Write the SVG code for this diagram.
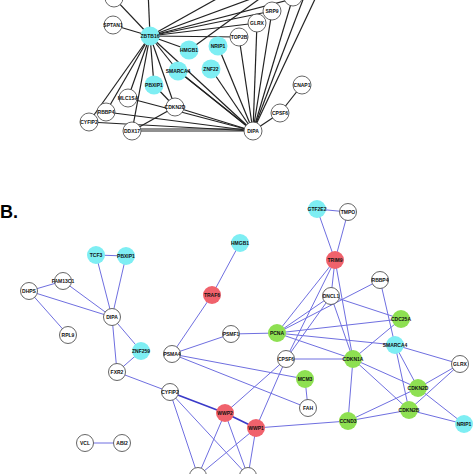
<svg xmlns="http://www.w3.org/2000/svg" width="474" height="474" viewBox="0 0 474 474">
<style>
.ea line{stroke:#222;stroke-width:1.2}
.eb line{stroke:#6f6fe0;stroke-width:1}
.w circle{fill:#fff;stroke:#555;stroke-width:0.9}
.c circle{fill:#7eeef3}
.r circle{fill:#f0626c}
.g circle{fill:#8ee052}
text{font-family:"Liberation Sans",Arial,sans-serif;font-size:5px;font-weight:bold;fill:#111;text-anchor:middle;dominant-baseline:central}
</style>
<rect width="474" height="474" fill="#fff"/>
<g id="connectors-a" class="ea">
<line x1="150" y1="36" x2="114" y2="-2"/>
<line x1="150" y1="36" x2="148" y2="-10"/>
<line x1="150" y1="36" x2="113" y2="25"/>
<line x1="150" y1="36" x2="220" y2="-3"/>
<line x1="150" y1="36" x2="256" y2="-3"/>
<line x1="150" y1="36" x2="300" y2="-3"/>
<line x1="150" y1="36" x2="272" y2="11"/>
<line x1="150" y1="36" x2="257" y2="23"/>
<line x1="150" y1="36" x2="239" y2="37"/>
<line x1="150" y1="36" x2="189" y2="50"/>
<line x1="150" y1="36" x2="154" y2="85"/>
<line x1="150" y1="36" x2="178" y2="71"/>
<line x1="150" y1="36" x2="128" y2="98"/>
<line x1="150" y1="36" x2="106" y2="112"/>
<line x1="150" y1="36" x2="89" y2="122"/>
<line x1="150" y1="36" x2="132" y2="131"/>
<line x1="150" y1="36" x2="175" y2="107"/>
<line x1="150" y1="36" x2="253" y2="131"/>
<line x1="189" y1="50" x2="262" y2="-3"/>
<line x1="218" y1="46" x2="253" y2="131"/>
<line x1="211" y1="69" x2="253" y2="131"/>
<line x1="178" y1="71" x2="253" y2="131"/>
<line x1="182" y1="74" x2="253" y2="131"/>
<line x1="154" y1="85" x2="175" y2="107"/>
<line x1="128" y1="98" x2="253" y2="131"/>
<line x1="106" y1="112" x2="253" y2="131"/>
<line x1="89" y1="122" x2="253" y2="131"/>
<line x1="132" y1="131" x2="253" y2="131"/>
<line x1="132" y1="129" x2="253" y2="129"/>
<line x1="132" y1="131" x2="175" y2="107"/>
<line x1="175" y1="107" x2="253" y2="131"/>
<line x1="239" y1="37" x2="253" y2="131"/>
<line x1="257" y1="23" x2="253" y2="131"/>
<line x1="272" y1="11" x2="253" y2="131"/>
<line x1="293" y1="-3" x2="253" y2="131"/>
<line x1="304" y1="-3" x2="253" y2="131"/>
<line x1="316" y1="-3" x2="253" y2="131"/>
<line x1="253" y1="131" x2="280" y2="113"/>
<line x1="280" y1="113" x2="302" y2="85"/>
</g>
<g id="connectors-b" class="eb">
<line x1="96" y1="255" x2="126" y2="256"/>
<line x1="96" y1="255" x2="112" y2="317"/>
<line x1="126" y1="256" x2="112" y2="317"/>
<line x1="29" y1="291" x2="63" y2="281"/>
<line x1="29" y1="291" x2="112" y2="317"/>
<line x1="29" y1="291" x2="68" y2="335"/>
<line x1="63" y1="281" x2="112" y2="317"/>
<line x1="112" y1="317" x2="141" y2="351"/>
<line x1="112" y1="317" x2="117" y2="372"/>
<line x1="141" y1="351" x2="117" y2="372"/>
<line x1="117" y1="372" x2="170" y2="392"/>
<line x1="85" y1="443" x2="122" y2="443"/>
<line x1="240" y1="243" x2="212" y2="295"/>
<line x1="212" y1="295" x2="172" y2="354"/>
<line x1="172" y1="354" x2="231" y2="334"/>
<line x1="172" y1="354" x2="305" y2="379"/>
<line x1="172" y1="354" x2="308" y2="408"/>
<line x1="231" y1="334" x2="277" y2="333"/>
<line x1="317" y1="209" x2="348" y2="212"/>
<line x1="317" y1="209" x2="335" y2="260"/>
<line x1="348" y1="212" x2="335" y2="260"/>
<line x1="335" y1="260" x2="277" y2="333"/>
<line x1="335" y1="260" x2="286" y2="359"/>
<line x1="335" y1="260" x2="353" y2="359"/>
<line x1="335" y1="260" x2="331" y2="296"/>
<line x1="380" y1="280" x2="277" y2="333"/>
<line x1="380" y1="280" x2="395" y2="345"/>
<line x1="331" y1="296" x2="401" y2="319"/>
<line x1="331" y1="296" x2="277" y2="333"/>
<line x1="331" y1="296" x2="286" y2="359"/>
<line x1="331" y1="296" x2="353" y2="359"/>
<line x1="277" y1="333" x2="401" y2="319"/>
<line x1="277" y1="333" x2="395" y2="345"/>
<line x1="277" y1="333" x2="353" y2="359"/>
<line x1="286" y1="359" x2="353" y2="359"/>
<line x1="286" y1="359" x2="225" y2="413"/>
<line x1="286" y1="359" x2="256" y2="428"/>
<line x1="305" y1="379" x2="308" y2="408"/>
<line x1="170" y1="392" x2="225" y2="413" style="stroke:#3a3ac8;stroke-width:1.6"/>
<line x1="225" y1="413" x2="256" y2="428" style="stroke:#3a3ac8;stroke-width:1.6"/>
<line x1="170" y1="392" x2="198" y2="476"/>
<line x1="170" y1="392" x2="248" y2="476"/>
<line x1="225" y1="413" x2="198" y2="476"/>
<line x1="225" y1="413" x2="248" y2="476"/>
<line x1="256" y1="428" x2="198" y2="476"/>
<line x1="256" y1="428" x2="248" y2="476"/>
<line x1="256" y1="428" x2="348" y2="421"/>
<line x1="353" y1="359" x2="348" y2="421"/>
<line x1="353" y1="359" x2="418" y2="388"/>
<line x1="353" y1="359" x2="409" y2="410"/>
<line x1="353" y1="359" x2="401" y2="319"/>
<line x1="395" y1="345" x2="460" y2="364"/>
<line x1="395" y1="345" x2="418" y2="388"/>
<line x1="395" y1="345" x2="409" y2="410"/>
<line x1="460" y1="364" x2="418" y2="388"/>
<line x1="460" y1="364" x2="409" y2="410"/>
<line x1="418" y1="388" x2="464" y2="424"/>
<line x1="409" y1="410" x2="464" y2="424"/>
<line x1="418" y1="388" x2="348" y2="421"/>
<line x1="409" y1="410" x2="348" y2="421"/>
</g>
<g id="ZBTB16" class="c"><circle cx="150" cy="36" r="9.5"/><text x="150" y="36">ZBTB16</text></g>
<g id="A-top1" class="w"><circle cx="114" cy="-2" r="9"/></g>
<g id="A-top2" class="w"><circle cx="293" cy="-3" r="9"/></g>
<g id="SPTAN1" class="w"><circle cx="113" cy="25" r="9"/><text x="113" y="25">SPTAN1</text></g>
<g id="HMGB1-a" class="c"><circle cx="189" cy="50" r="9.5"/><text x="189" y="50">HMGB1</text></g>
<g id="NRIP1-a" class="c"><circle cx="218" cy="46" r="9.5"/><text x="218" y="46">NRIP1</text></g>
<g id="TOP2B" class="w"><circle cx="239" cy="37" r="9"/><text x="239" y="37">TOP2B</text></g>
<g id="GLRX-a" class="w"><circle cx="257" cy="23" r="9"/><text x="257" y="23">GLRX</text></g>
<g id="SRP9" class="w"><circle cx="272" cy="11" r="9"/><text x="272" y="11">SRP9</text></g>
<g id="ZNF22" class="c"><circle cx="211" cy="69" r="9.5"/><text x="211" y="69">ZNF22</text></g>
<g id="SMARCA4-a" class="c"><circle cx="178" cy="71" r="9.5"/><text x="178" y="71">SMARCA4</text></g>
<g id="PBXIP1-a" class="c"><circle cx="154" cy="85" r="9.5"/><text x="154" y="85">PBXIP1</text></g>
<g id="MLC1SA" class="w"><circle cx="128" cy="98" r="9"/><text x="128" y="98">MLC1SA</text></g>
<g id="RBBP4-a" class="w"><circle cx="106" cy="112" r="9"/><text x="106" y="112">RBBP4</text></g>
<g id="CYFIP2-a" class="w"><circle cx="89" cy="122" r="9"/><text x="89" y="122">CYFIP2</text></g>
<g id="DDX17" class="w"><circle cx="132" cy="131" r="9"/><text x="132" y="131">DDX17</text></g>
<g id="CDKN2D-a" class="w"><circle cx="175" cy="107" r="9"/><text x="175" y="107">CDKN2D</text></g>
<g id="DIPA-a" class="w"><circle cx="253" cy="131" r="9"/><text x="253" y="131">DIPA</text></g>
<g id="CPSF6-a" class="w"><circle cx="280" cy="113" r="9"/><text x="280" y="113">CPSF6</text></g>
<g id="CNAP1" class="w"><circle cx="302" cy="85" r="9"/><text x="302" y="85">CNAP1</text></g>
<text x="9" y="212" style="font-size:18px;font-weight:bold;fill:#000">B.</text>
<g id="TCF3" class="c"><circle cx="96" cy="255" r="9"/><text x="96" y="255">TCF3</text></g>
<g id="PBXIP1-b" class="c"><circle cx="126" cy="256" r="9"/><text x="126" y="256">PBXIP1</text></g>
<g id="FAM13C1" class="w"><circle cx="63" cy="281" r="8.5"/><text x="63" y="281">FAM13C1</text></g>
<g id="DHPS" class="w"><circle cx="29" cy="291" r="8.5"/><text x="29" y="291">DHPS</text></g>
<g id="DIPA-b" class="w"><circle cx="112" cy="317" r="8.5"/><text x="112" y="317">DIPA</text></g>
<g id="RPL9" class="w"><circle cx="68" cy="335" r="8.5"/><text x="68" y="335">RPL9</text></g>
<g id="ZNF259" class="c"><circle cx="141" cy="351" r="9"/><text x="141" y="351">ZNF259</text></g>
<g id="FXR2" class="w"><circle cx="117" cy="372" r="8.5"/><text x="117" y="372">FXR2</text></g>
<g id="VCL" class="w"><circle cx="85" cy="443" r="8.5"/><text x="85" y="443">VCL</text></g>
<g id="ABI2" class="w"><circle cx="122" cy="443" r="8.5"/><text x="122" y="443">ABI2</text></g>
<g id="HMGB1-b" class="c"><circle cx="240" cy="243" r="9"/><text x="240" y="243">HMGB1</text></g>
<g id="TRAF6" class="r"><circle cx="212" cy="295" r="9"/><text x="212" y="295">TRAF6</text></g>
<g id="GTF2E2" class="c"><circle cx="317" cy="209" r="9"/><text x="317" y="209">GTF2E2</text></g>
<g id="TMPO" class="w"><circle cx="348" cy="212" r="8.5"/><text x="348" y="212">TMPO</text></g>
<g id="TRIM9" class="r"><circle cx="335" cy="260" r="9"/><text x="335" y="260">TRIM9</text></g>
<g id="RBBP4-b" class="w"><circle cx="380" cy="280" r="8.5"/><text x="380" y="280">RBBP4</text></g>
<g id="DNCL1" class="w"><circle cx="331" cy="296" r="8.5"/><text x="331" y="296">DNCL1</text></g>
<g id="PSMF1" class="w"><circle cx="231" cy="334" r="8.5"/><text x="231" y="334">PSMF1</text></g>
<g id="PCNA" class="g"><circle cx="277" cy="333" r="9"/><text x="277" y="333">PCNA</text></g>
<g id="PSMA4" class="w"><circle cx="172" cy="354" r="8.5"/><text x="172" y="354">PSMA4</text></g>
<g id="CPSF6-b" class="w"><circle cx="286" cy="359" r="8.5"/><text x="286" y="359">CPSF6</text></g>
<g id="MCM3" class="g"><circle cx="305" cy="379" r="9"/><text x="305" y="379">MCM3</text></g>
<g id="CYFIP2-b" class="w"><circle cx="170" cy="392" r="8.5"/><text x="170" y="392">CYFIP2</text></g>
<g id="FAH" class="w"><circle cx="308" cy="408" r="8.5"/><text x="308" y="408">FAH</text></g>
<g id="WWP2" class="r"><circle cx="225" cy="413" r="9"/><text x="225" y="413">WWP2</text></g>
<g id="WWP1" class="r"><circle cx="256" cy="428" r="9"/><text x="256" y="428">WWP1</text></g>
<g id="B-bottom1" class="w"><circle cx="198" cy="476" r="8.5"/></g>
<g id="B-bottom2" class="w"><circle cx="248" cy="476" r="8.5"/></g>
<g id="CDC25A" class="g"><circle cx="401" cy="319" r="9"/><text x="401" y="319">CDC25A</text></g>
<g id="SMARCA4-b" class="c"><circle cx="395" cy="345" r="9"/><text x="395" y="345">SMARCA4</text></g>
<g id="CDKN1A" class="g"><circle cx="353" cy="359" r="9"/><text x="353" y="359">CDKN1A</text></g>
<g id="GLRX-b" class="w"><circle cx="460" cy="364" r="8.5"/><text x="460" y="364">GLRX</text></g>
<g id="CDKN2D-b" class="g"><circle cx="418" cy="388" r="9"/><text x="418" y="388">CDKN2D</text></g>
<g id="CDKN2B" class="g"><circle cx="409" cy="410" r="9"/><text x="409" y="410">CDKN2B</text></g>
<g id="CCND3" class="g"><circle cx="348" cy="421" r="9"/><text x="348" y="421">CCND3</text></g>
<g id="NRIP1-b" class="c"><circle cx="464" cy="424" r="9"/><text x="464" y="424">NRIP1</text></g>
</svg>
